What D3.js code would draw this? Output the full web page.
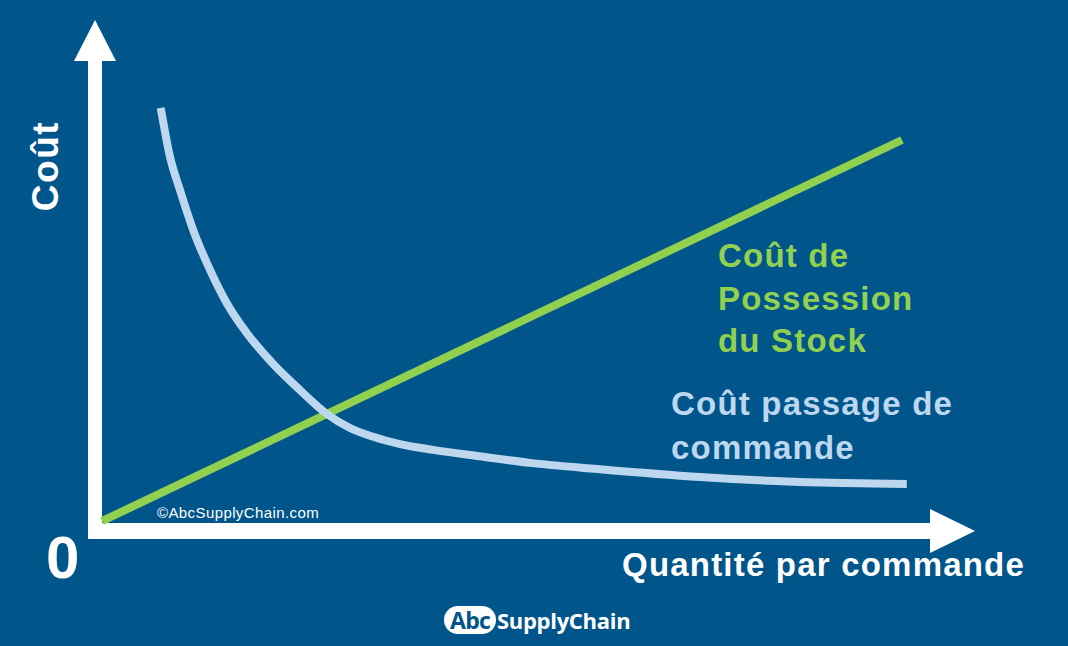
<!DOCTYPE html>
<html>
<head>
<meta charset="utf-8">
<script src="https://cdn.jsdelivr.net/npm/d3@7"></script>
<style>
  html, body { margin: 0; padding: 0; background: #00558b; }
  svg { display: block; }
  text { font-family: "Liberation Sans", Arial, sans-serif; }
</style>
</head>
<body>
<div id="chart"></div>
<script>
// Quantité (x) and coût (y) in arbitrary units
const holdingQty = [0, 100];
const holdingCost = [0.5, 100];

const orderQty = [7.34, 8.5, 9.75, 11.4, 13.5, 15.6, 18.1, 21.4, 24.75, 28.1,
                  31.0, 33.9, 37.25, 41.4, 46.9, 53.5, 61.9, 74.75, 87.25, 100.6];
const orderCost = [108.4, 95.6, 86.9, 76.5, 66.1, 57.4, 49.6, 41.5, 34.7, 28.5,
                   24.8, 22.5, 20.6, 19.1, 17.5, 15.7, 14.1, 12.0, 10.7, 10.2];

const holdingLabel = ["Coût de", "Possession", "du Stock"];
const orderLabel = ["Coût passage de", "commande"];

const W = 1068, H = 646;
const BG = "#00558b";
const GREEN = "#92d050";
const LIGHT = "#bdd7ee";

const svg = d3.select("#chart").append("svg")
    .attr("width", W)
    .attr("height", H);

svg.append("rect").attr("width", W).attr("height", H).attr("fill", BG);

// origin sits at the inner corner of the two white axis bars
const x = d3.scaleLinear().domain([0, 100]).range([102, 902]);
const y = d3.scaleLinear().domain([0, 100]).range([523, 140]);

// axes: thick white bars with arrow heads
const axes = svg.append("g").attr("fill", "#fff");
axes.append("rect")
    .attr("x", x(0) - 14).attr("y", 60)
    .attr("width", 14).attr("height", y(0) + 16 - 60);
axes.append("path")
    .attr("d", "M" + (x(0) - 7) + ",20 L" + (x(0) + 14) + ",61 L" + (x(0) - 28) + ",61 Z");
axes.append("rect")
    .attr("x", x(0) - 14).attr("y", y(0))
    .attr("width", 931 - (x(0) - 14)).attr("height", 16);
axes.append("path")
    .attr("d", "M975," + (y(0) + 8) + " L930," + (y(0) - 14) + " L930," + (y(0) + 30) + " Z");

// copyright inside the plot
svg.append("text")
    .attr("x", 157).attr("y", 518)
    .attr("fill", "#fff")
    .attr("font-size", 15)
    .attr("letter-spacing", 0.4)
    .text("©AbcSupplyChain.com");

const line = d3.line()
    .x(d => x(d[0]))
    .y(d => y(d[1]));

// coût de possession du stock (linear)
svg.append("path")
    .datum(d3.zip(holdingQty, holdingCost))
    .attr("d", line)
    .attr("fill", "none")
    .attr("stroke", GREEN)
    .attr("stroke-width", 8);

// coût passage de commande (decreasing curve)
svg.append("path")
    .datum(d3.zip(orderQty, orderCost))
    .attr("d", line.curve(d3.curveMonotoneX))
    .attr("fill", "none")
    .attr("stroke", LIGHT)
    .attr("stroke-width", 8);

// series labels
svg.append("text")
    .attr("fill", GREEN)
    .attr("font-size", 33).attr("font-weight", "bold").attr("letter-spacing", 1.2)
    .selectAll("tspan").data(holdingLabel).join("tspan")
    .attr("x", 718)
    .attr("y", (d, i) => [267, 310, 352][i])
    .text(d => d);

svg.append("text")
    .attr("fill", LIGHT)
    .attr("font-size", 33).attr("font-weight", "bold").attr("letter-spacing", 1.2)
    .selectAll("tspan").data(orderLabel).join("tspan")
    .attr("x", 671)
    .attr("y", (d, i) => [415, 459][i])
    .text(d => d);

// axis titles
svg.append("text")
    .attr("transform", "translate(58,166) rotate(-90)")
    .attr("text-anchor", "middle")
    .attr("fill", "#fff")
    .attr("font-size", 37).attr("font-weight", "bold").attr("letter-spacing", 1.5)
    .text("Coût");

svg.append("text")
    .attr("x", 1025).attr("y", 576)
    .attr("text-anchor", "end")
    .attr("fill", "#fff")
    .attr("font-size", 33).attr("font-weight", "bold").attr("letter-spacing", 1.2)
    .text("Quantité par commande");

svg.append("text")
    .attr("x", 46).attr("y", 578)
    .attr("fill", "#fff")
    .attr("font-size", 60).attr("font-weight", "bold")
    .text("0");

// logo (style() so the css rule on text doesn't win)
const logo = svg.append("g");
logo.append("rect")
    .attr("x", 444).attr("y", 606)
    .attr("width", 52).attr("height", 28).attr("rx", 14)
    .attr("fill", "#fff");
logo.append("text")
    .attr("x", 470).attr("y", 629)
    .attr("text-anchor", "middle")
    .attr("fill", BG)
    .style("font-family", "'Open Sans', sans-serif")
    .attr("font-size", 23).attr("font-weight", "bold")
    .attr("letter-spacing", -0.8)
    .text("Abc");
logo.append("text")
    .attr("x", 497).attr("y", 629)
    .attr("fill", "#fff")
    .style("font-family", "'Open Sans', sans-serif")
    .attr("font-size", 22).attr("font-weight", "bold")
    .attr("letter-spacing", -0.3)
    .text("SupplyChain");
</script>
</body>
</html>
